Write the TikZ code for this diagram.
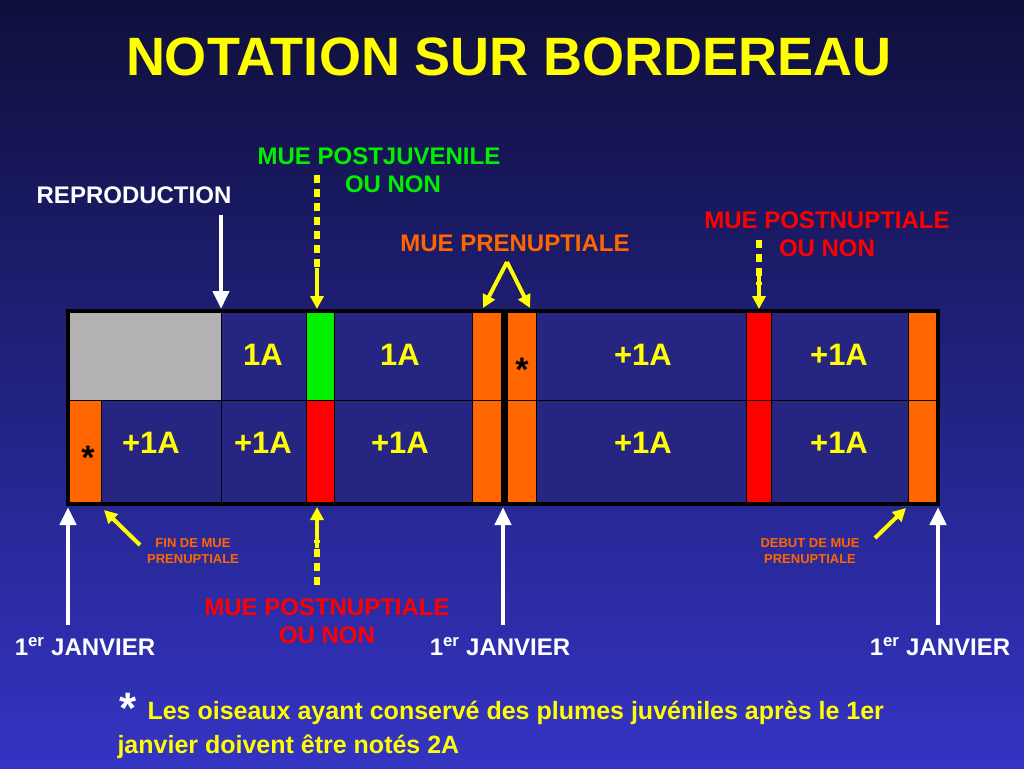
\documentclass[tikz,border=0pt]{standalone}
\usepackage{fontspec}
\setmainfont{Liberation Sans}
\usetikzlibrary{arrows.meta}
\definecolor{navy}{RGB}{38,38,130}
\definecolor{ylw}{RGB}{255,255,0}
\definecolor{org}{RGB}{255,102,0}
\definecolor{grn}{RGB}{0,240,0}
\definecolor{rd}{RGB}{255,0,0}
\definecolor{gry}{RGB}{178,178,178}
\begin{document}
\begin{tikzpicture}[x=1pt,y=-1pt,
  cell/.style={draw=black,line width=1pt},
  val/.style={text=ylw,font=\bfseries\fontsize{31}{33}\selectfont},
  lab/.style={font=\bfseries\fontsize{24}{28}\selectfont,align=center},
  small/.style={font=\bfseries\fontsize{13}{16}\selectfont,text=org,align=center},
  warr/.style={white,line width=4.5pt,-{Triangle[length=18pt,width=16pt]}},
  yarr/.style={ylw,line width=4pt,-{Triangle[length=13pt,width=13pt]}},
  ydot/.style={ylw,line width=6pt,dash pattern=on 8pt off 6pt},
  star/.style={font=\bfseries\fontsize{34}{34}\selectfont}]
\useasboundingbox (0,0) rectangle (1024,768);
\shade[top color={rgb,255:red,15;green,15;blue,60},bottom color={rgb,255:red,52;green,52;blue,195}] (0,0) rectangle (1024,768);
\node[text=ylw,font=\bfseries\fontsize{54}{56}\selectfont] (title) at (509,57) {NOTATION SUR BORDEREAU};
% table
\fill[navy] (68,311) rectangle (938,504);
\draw[cell,fill=gry] (68,311) rectangle (221,400);
\draw[cell,fill=org] (68,400) rectangle (101,504);
\draw[cell] (101,400) rectangle (221,504);
\draw[cell] (221,311) rectangle (306,400);
\draw[cell] (221,400) rectangle (306,504);
\draw[cell,fill=grn] (306,311) rectangle (334,400);
\draw[cell,fill=rd] (306,400) rectangle (334,504);
\draw[cell] (334,311) rectangle (472,400);
\draw[cell] (334,400) rectangle (472,504);
\draw[cell,fill=org] (472,311) rectangle (501,400);
\draw[cell,fill=org] (472,400) rectangle (501,504);
\draw[cell,fill=org] (507,311) rectangle (536,400);
\draw[cell,fill=org] (507,400) rectangle (536,504);
\draw[cell] (536,311) rectangle (746,400);
\draw[cell] (536,400) rectangle (746,504);
\draw[cell,fill=rd] (746,311) rectangle (771,504);
\draw[cell] (746,400) -- (771,400);
\draw[cell] (771,311) rectangle (908,400);
\draw[cell] (771,400) rectangle (908,504);
\draw[cell,fill=org] (908,311) rectangle (937,400);
\draw[cell,fill=org] (908,400) rectangle (937,504);
\draw[black,line width=4pt] (68,311) rectangle (938,504);
\draw[black,line width=6pt] (504,311) -- (504,504);
\node[val] (c1) at (263,355) {1A};
\node[val] (c2) at (400,355) {1A};
\node[val] (c3) at (643,355) {+1A};
\node[val] (c4) at (839,355) {+1A};
\node[val] (c5) at (151,443) {+1A};
\node[val] (c6) at (263,443) {+1A};
\node[val] (c7) at (400,443) {+1A};
\node[val] (c8) at (643,443) {+1A};
\node[val] (c9) at (839,443) {+1A};
\node[star] (s1) at (88,458) {*};
\node[star] (s2) at (522,370) {*};
% labels top
\node[lab,text=white] (repro) at (134,195) {REPRODUCTION};
\node[lab,text=grn] (mpj) at (379,170) {MUE POSTJUVENILE\\\hspace*{28pt}OU NON};
\node[lab,text=org] (mpre) at (515,243) {MUE PRENUPTIALE};
\node[lab,text=rd] (mpn1) at (827,234) {MUE POSTNUPTIALE\\OU NON};
\coordinate (r0) at (221,215); \coordinate (r1) at (221,309);
\draw[warr] (r0) -- (r1);
\coordinate (g0) at (317,175); \coordinate (g1) at (317,309);
\draw[ydot] (g0) -- (317,270);
\draw[yarr] (317,268) -- (g1);
\coordinate (p0) at (507,262); \coordinate (pa) at (483,308); \coordinate (pb) at (530,308);
\draw[yarr] (p0) -- (pa); \draw[yarr] (p0) -- (pb);
\coordinate (n0) at (759,240); \coordinate (n1) at (759,309);
\draw[ydot] (n0) -- (759,285);
\draw[yarr] (759,276) -- (n1);
% bottom
\foreach \x/\n in {68/ja,503/jb,938/jc}{
  \coordinate (\n0) at (\x,625); \coordinate (\n1) at (\x,507);
  \draw[warr] (\n0) -- (\n1);}
\node[lab,text=white] (t1) at (85,647) {1\textsuperscript{er} JANVIER};
\node[lab,text=white] (t2) at (500,647) {1\textsuperscript{er} JANVIER};
\node[lab,text=white] (t3) at (940,647) {1\textsuperscript{er} JANVIER};
\coordinate (b0) at (317,585); \coordinate (b1) at (317,507);
\draw[ydot] (b0) -- (317,540);
\draw[yarr] (317,548) -- (b1);
\node[lab,text=rd] (mpn2) at (327,621) {MUE POSTNUPTIALE\\OU NON};
\coordinate (f0) at (140,545); \coordinate (f1) at (104,510);
\draw[yarr] (f0) -- (f1);
\node[small] (fin) at (193,551) {FIN DE MUE\\PRENUPTIALE};
\coordinate (d0) at (875,538); \coordinate (d1) at (906,508);
\draw[yarr] (d0) -- (d1);
\node[small] (deb) at (810,551) {DEBUT DE MUE\\PRENUPTIALE};
\node[text=white,font=\bfseries\fontsize{44}{44}\selectfont] (st) at (128,708) {*};
\node[text=ylw,font=\bfseries\fontsize{25}{34}\selectfont,align=left,anchor=north west] (note) at (114,698) {\hspace*{30pt}Les oiseaux ayant conservé des plumes juvéniles après le 1er\\janvier doivent être notés 2A};
\end{tikzpicture}
\end{document}
